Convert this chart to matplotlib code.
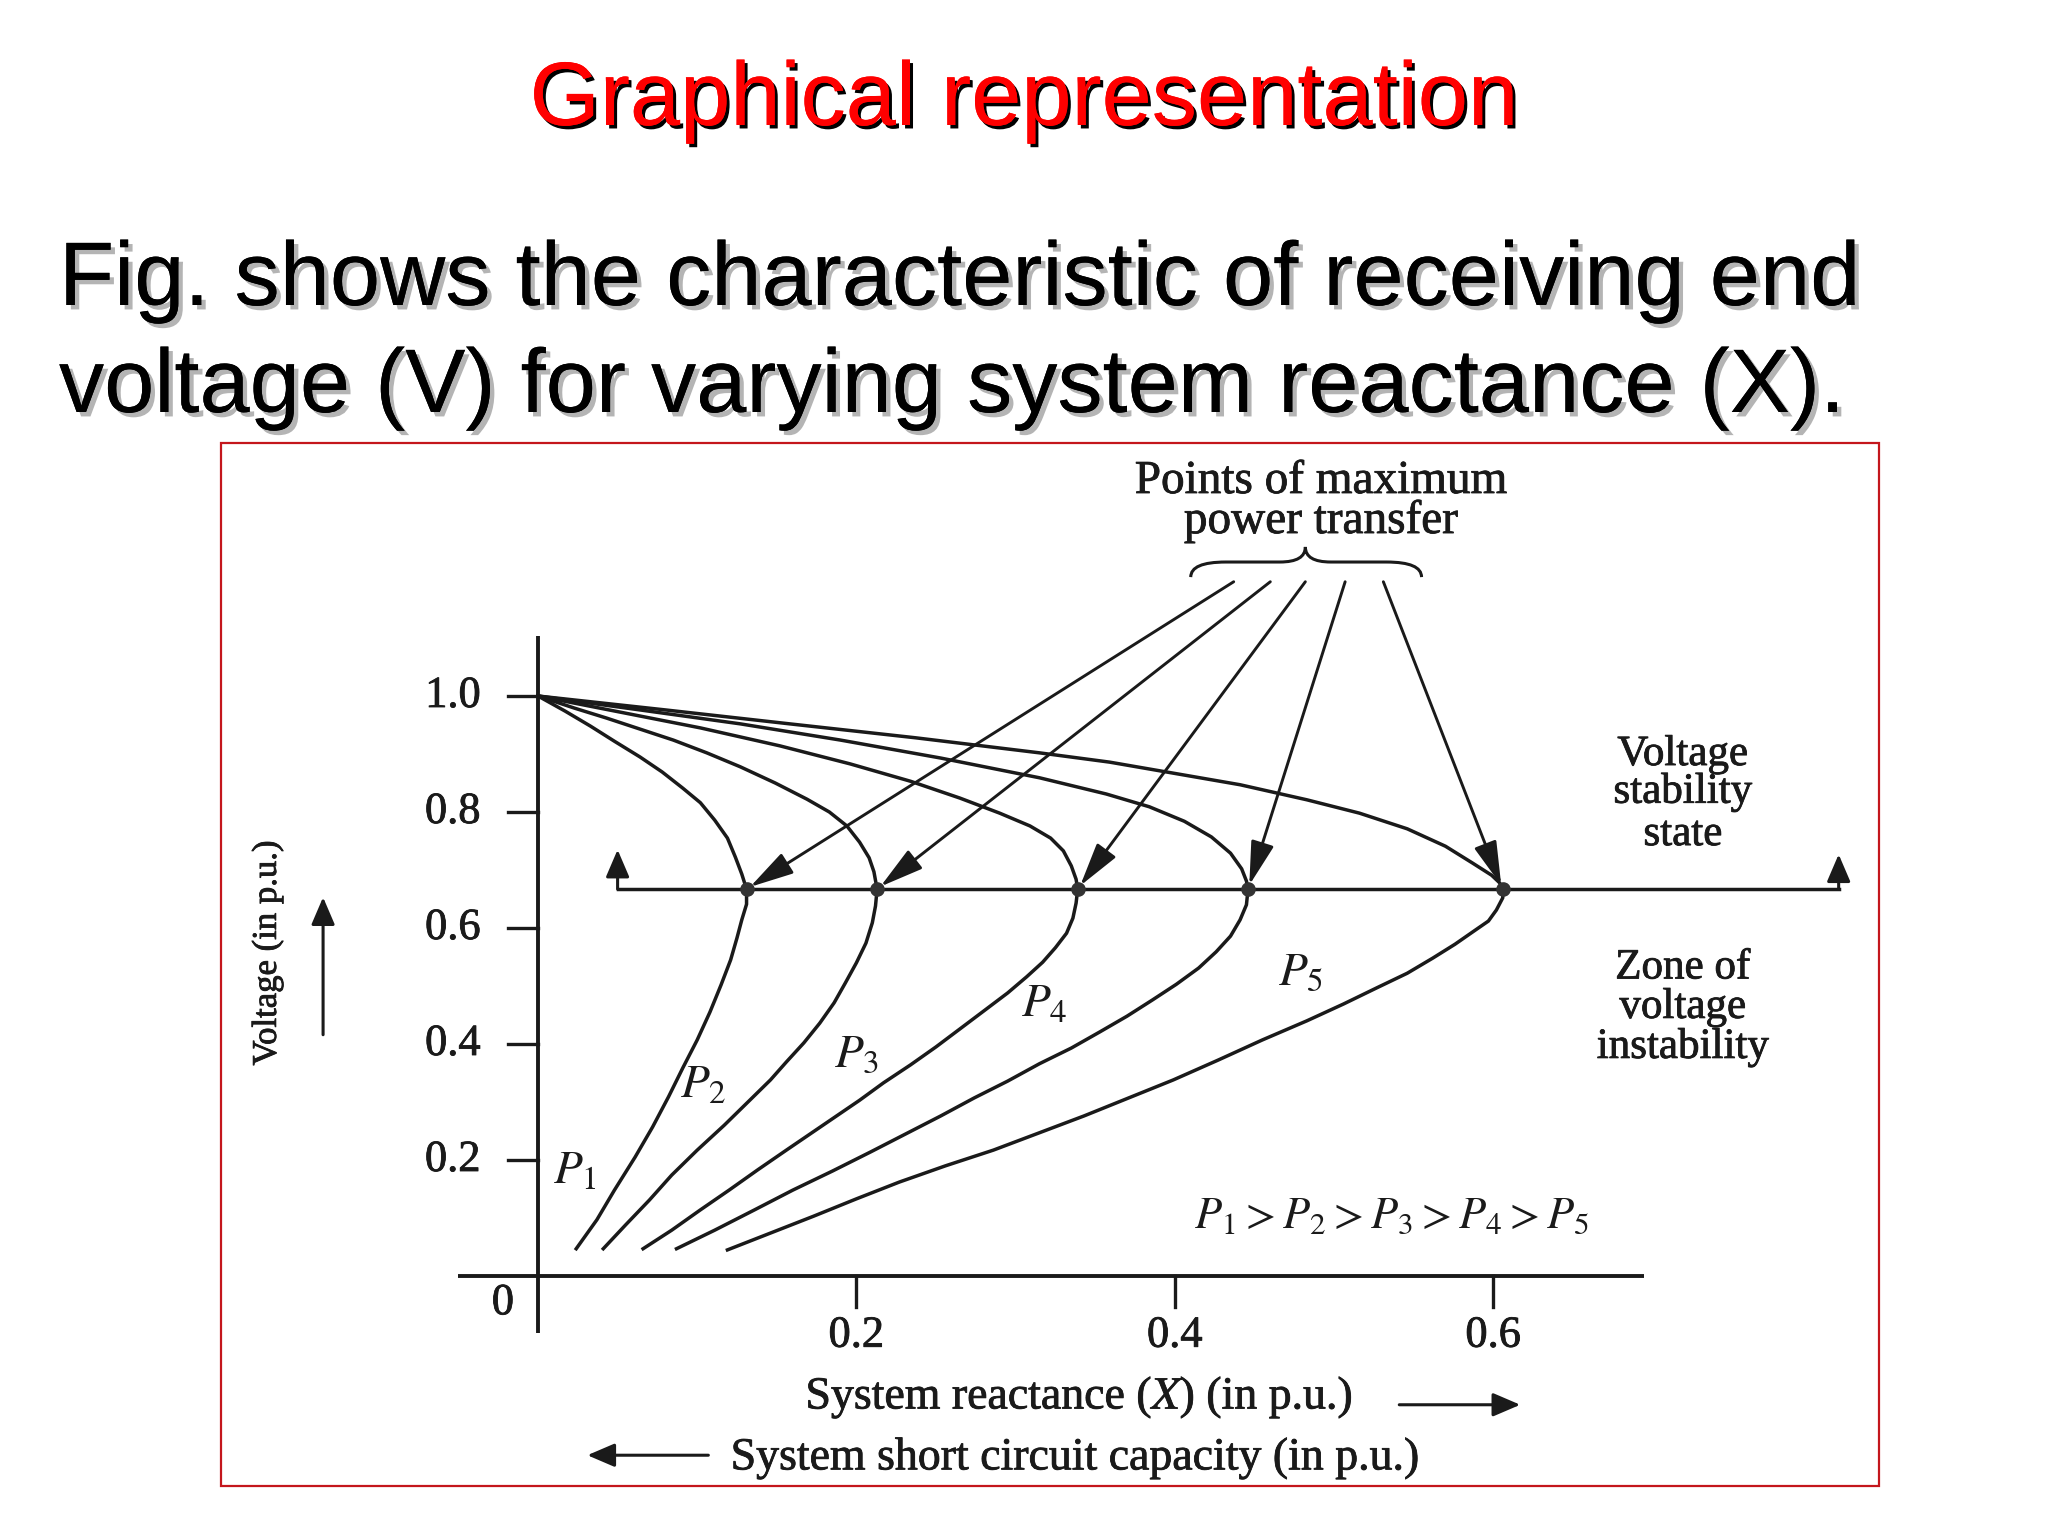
import matplotlib
matplotlib.use("Agg")
import matplotlib.pyplot as plt
import matplotlib.patheffects as pe
from matplotlib.patches import Rectangle, PathPatch
from matplotlib.path import Path

plt.rcParams["font.family"] = ["Liberation Serif", "DejaVu Serif"]
plt.rcParams["mathtext.fontset"] = "stix"

# --- data (X in p.u., V in p.u.) ---
V_TICKS = [0.2, 0.4, 0.6, 0.8, 1.0]
V_TICK_LABELS = ["0.2", "0.4", "0.6", "0.8", "1.0"]
X_TICKS = [0.2, 0.4, 0.6]
X_TICK_LABELS = ["0.2", "0.4", "0.6"]

V_CRIT = 0.667  # voltage at the points of maximum power transfer

p1_x = [0.0, 0.017, 0.033, 0.048, 0.064, 0.078, 0.091, 0.102, 0.111, 0.119,
        0.124, 0.128, 0.131,
        0.131, 0.128, 0.125, 0.121, 0.115, 0.108, 0.100, 0.091, 0.082, 0.072,
        0.061, 0.048, 0.037, 0.024]
p1_v = [1.0, 0.974, 0.948, 0.922, 0.895, 0.869, 0.841, 0.816, 0.786, 0.755,
        0.722, 0.693, 0.667,
        0.641, 0.614, 0.583, 0.545, 0.502, 0.455, 0.407, 0.359, 0.309, 0.257,
        0.205, 0.148, 0.097, 0.047]

p2_x = [0.0, 0.023, 0.043, 0.064, 0.085, 0.106, 0.127, 0.149, 0.169, 0.183,
        0.194, 0.202, 0.208, 0.211, 0.213,
        0.212, 0.210, 0.206, 0.200, 0.193, 0.186, 0.177, 0.167, 0.156, 0.146,
        0.133, 0.117, 0.100, 0.084, 0.070, 0.055, 0.041]
p2_v = [1.0, 0.979, 0.962, 0.943, 0.924, 0.902, 0.878, 0.850, 0.822, 0.800,
        0.776, 0.748, 0.721, 0.697, 0.667,
        0.638, 0.609, 0.574, 0.540, 0.505, 0.471, 0.436, 0.402, 0.369, 0.338,
        0.303, 0.260, 0.217, 0.174, 0.131, 0.088, 0.047]

p3_x = [0.0, 0.052, 0.102, 0.152, 0.196, 0.234, 0.265, 0.290, 0.309, 0.322,
        0.330, 0.335, 0.338, 0.339,
        0.338, 0.336, 0.332, 0.325, 0.317, 0.307, 0.295, 0.281, 0.266, 0.250,
        0.234, 0.217, 0.202, 0.179, 0.156, 0.138, 0.120, 0.102, 0.084, 0.066]
p3_v = [1.0, 0.972, 0.945, 0.914, 0.883, 0.853, 0.824, 0.798, 0.776, 0.755,
        0.733, 0.707, 0.684, 0.667,
        0.643, 0.617, 0.591, 0.566, 0.541, 0.516, 0.488, 0.459, 0.428, 0.395,
        0.364, 0.333, 0.303, 0.260, 0.217, 0.183, 0.148, 0.114, 0.079, 0.047]

p4_x = [0.0, 0.064, 0.127, 0.190, 0.253, 0.315, 0.357, 0.384, 0.406, 0.423,
        0.435, 0.442, 0.445, 0.446,
        0.445, 0.441, 0.435, 0.426, 0.415, 0.401, 0.386, 0.370, 0.353, 0.335,
        0.315, 0.295, 0.274, 0.253, 0.231, 0.209, 0.185, 0.160, 0.136, 0.111,
        0.087]
p4_v = [1.0, 0.976, 0.952, 0.924, 0.893, 0.859, 0.831, 0.809, 0.784, 0.757,
        0.729, 0.702, 0.681, 0.667,
        0.640, 0.614, 0.586, 0.559, 0.531, 0.503, 0.476, 0.448, 0.421, 0.393,
        0.366, 0.336, 0.307, 0.276, 0.245, 0.214, 0.181, 0.148, 0.114, 0.079,
        0.047]

p5_x = [0.0, 0.080, 0.158, 0.237, 0.315, 0.359, 0.399, 0.441, 0.483, 0.516,
        0.546, 0.570, 0.587, 0.599, 0.604, 0.606,
        0.606, 0.602, 0.597, 0.587, 0.576, 0.562, 0.546, 0.527, 0.506, 0.483,
        0.455, 0.427, 0.399, 0.371, 0.343, 0.315, 0.286, 0.256, 0.227, 0.200,
        0.173, 0.146, 0.119]
p5_v = [1.0, 0.976, 0.952, 0.928, 0.902, 0.886, 0.867, 0.847, 0.821, 0.798,
        0.771, 0.741, 0.712, 0.691, 0.678, 0.667,
        0.652, 0.631, 0.612, 0.593, 0.572, 0.548, 0.522, 0.497, 0.469, 0.440,
        0.407, 0.372, 0.338, 0.307, 0.276, 0.247, 0.217, 0.190, 0.162, 0.133,
        0.103, 0.074, 0.045]

CURVES_X = [p1_x, p2_x, p3_x, p4_x, p5_x]
CURVES_V = [p1_v, p2_v, p3_v, p4_v, p5_v]
CURVE_NAMES = ["$P_1$", "$P_2$", "$P_3$", "$P_4$", "$P_5$"]
NOSE_X = [0.131, 0.213, 0.339, 0.446, 0.606]

# where the label of each curve sits
NAME_X = [0.023, 0.104, 0.200, 0.318, 0.479]
NAME_V = [0.178, 0.326, 0.381, 0.466, 0.522]

# start of the arrows under the brace
ARROW_START_X = [0.437, 0.460, 0.482, 0.507, 0.531]
ARROW_START_V = 1.197

INK = "#1a1a1a"
ink_fx = [pe.withStroke(linewidth=0.6, foreground=INK)]

fig = plt.figure(figsize=(20.48, 15.36), dpi=100)
fig.patch.set_facecolor("white")

# --- slide header ---
fig.text(0.5, 1 - 125 / 1536, "Graphical representation",
         ha="center", va="baseline", fontsize=65, family="Liberation Sans",
         color="#ff0000",
         path_effects=[pe.withSimplePatchShadow(offset=(2.2, -2.5),
                                                shadow_rgbFace="black",
                                                alpha=1.0),
                       pe.Normal()])

sub_fx = [pe.withSimplePatchShadow(offset=(3.2, -3.2),
                                   shadow_rgbFace="#b4b4b4", alpha=1.0),
          pe.Normal()]
fig.text(59 / 2048, 1 - 305 / 1536,
         "Fig. shows the characteristic of receiving end",
         ha="left", va="baseline", fontsize=65, family="Liberation Sans",
         color="black", path_effects=sub_fx)
fig.text(59 / 2048, 1 - 412 / 1536,
         "voltage (V) for varying system reactance (X).",
         ha="left", va="baseline", fontsize=65, family="Liberation Sans",
         color="black", path_effects=sub_fx)

# red frame round the scanned figure
fig.add_artist(Rectangle((221 / 2048, 1 - 1486 / 1536),
                         (1879 - 221) / 2048, (1486 - 443) / 1536,
                         transform=fig.transFigure, fill=False,
                         edgecolor="#c4161c", lw=1.6))

# --- the figure itself, drawn in data units (X, V) ---
ax = fig.add_axes([0, 0, 1, 1])
ax.set_xlim(-538 / 1592, (2048 - 538) / 1592)
ax.set_ylim(-(1536 - 1276) / 580, 1276 / 580)
ax.axis("off")
ax.patch.set_alpha(0)

# axes lines
ax.plot([0, 0], [-0.098, 1.103], color=INK, lw=2.8, solid_capstyle="butt")
ax.plot([-0.050, 0.695], [0, 0], color=INK, lw=2.8, solid_capstyle="butt")

for v, lab in zip(V_TICKS, V_TICK_LABELS):
    ax.plot([-0.019, 0], [v, v], color=INK, lw=2.4)
    ax.text(-0.036, v, lab, ha="right", va="center", fontsize=32, color=INK,
            path_effects=ink_fx)

for x, lab in zip(X_TICKS, X_TICK_LABELS):
    ax.plot([x, x], [0, -0.053], color=INK, lw=2.4)
    ax.text(x, -0.103, lab, ha="center", va="center", fontsize=32, color=INK,
            path_effects=ink_fx)

ax.text(-0.022, -0.047, "0", ha="center", va="center", fontsize=32, color=INK,
        path_effects=ink_fx)

# P-V (nose) curves
for cx, cv in zip(CURVES_X, CURVES_V):
    ax.plot(cx, cv, color=INK, lw=2.5, solid_joinstyle="round")

for name, nx, nv in zip(CURVE_NAMES, NAME_X, NAME_V):
    ax.text(nx, nv, name, ha="center", va="center", fontsize=34, color=INK)

# boundary between stable state and zone of instability
ax.plot([0.050, 0.817], [V_CRIT, V_CRIT], color=INK, lw=2.5)
stem = dict(arrowstyle="-|>,head_length=0.7,head_width=0.3",
            lw=2.2, color=INK, mutation_scale=24, shrinkA=0, shrinkB=0)
ax.annotate("", xy=(0.050, 0.735), xytext=(0.050, V_CRIT), arrowprops=stem)
ax.annotate("", xy=(0.817, 0.727), xytext=(0.817, V_CRIT), arrowprops=stem)

# points of maximum power transfer
ax.plot(NOSE_X, [V_CRIT] * len(NOSE_X), "o", color="#333333",
        markersize=9.5, zorder=4)

head = dict(arrowstyle="-|>,head_length=0.9,head_width=0.24",
            lw=2.1, color=INK, mutation_scale=30, shrinkA=0, shrinkB=3)
for sx, nx in zip(ARROW_START_X, NOSE_X):
    ax.annotate("", xy=(nx, V_CRIT), xytext=(sx, ARROW_START_V),
                arrowprops=head, zorder=5)

# brace over the arrow origins
bl, br, bm = 0.410, 0.555, 0.482
b_end, b_mid, b_tip = 1.205, 1.231, 1.257
brace = Path(
    [(bl, b_end), (bl, b_mid), (bl + 0.022, b_mid),
     (bm - 0.016, b_mid), (bm, b_mid), (bm, b_tip),
     (bm, b_mid), (bm + 0.016, b_mid),
     (br - 0.022, b_mid), (br, b_mid), (br, b_end)],
    [Path.MOVETO, Path.CURVE3, Path.CURVE3,
     Path.LINETO, Path.CURVE3, Path.CURVE3,
     Path.CURVE3, Path.CURVE3,
     Path.LINETO, Path.CURVE3, Path.CURVE3])
ax.add_patch(PathPatch(brace, fill=False, edgecolor=INK, lw=2.2))

ax.text(0.492, 1.350, "Points of maximum", ha="center", va="baseline",
        fontsize=34, color=INK, path_effects=ink_fx)
ax.text(0.492, 1.281, "power transfer", ha="center", va="baseline",
        fontsize=34, color=INK, path_effects=ink_fx)

for v, line in zip([0.881, 0.816, 0.743], ["Voltage", "stability", "state"]):
    ax.text(0.719, v, line, ha="center", va="baseline", fontsize=31,
            color=INK, path_effects=ink_fx)
for v, line in zip([0.513, 0.445, 0.376], ["Zone of", "voltage", "instability"]):
    ax.text(0.719, v, line, ha="center", va="baseline", fontsize=31,
            color=INK, path_effects=ink_fx)

ax.text(0.536, 0.102, r"$P_1 > P_2 > P_3 > P_4 > P_5$",
        ha="center", va="center", fontsize=32, color=INK)

# axis titles
ax.text(-0.170, 0.557, "Voltage (in p.u.)", rotation=90, ha="center",
        va="center", fontsize=25, color=INK, path_effects=ink_fx)
ax.annotate("", xy=(-0.135, 0.653), xytext=(-0.135, 0.416), arrowprops=stem)

ax.text(0.168, -0.209, "System reactance ($X$) (in p.u.)", ha="left",
        va="center", fontsize=33, color=INK, path_effects=ink_fx)
ax.annotate("", xy=(0.617, -0.222), xytext=(0.541, -0.222), arrowprops=stem)

ax.text(0.121, -0.314, "System short circuit capacity (in p.u.)", ha="left",
        va="center", fontsize=33, color=INK, path_effects=ink_fx)
ax.annotate("", xy=(0.031, -0.309), xytext=(0.107, -0.309), arrowprops=stem)

fig.savefig("out.png", dpi=100, facecolor="white")
